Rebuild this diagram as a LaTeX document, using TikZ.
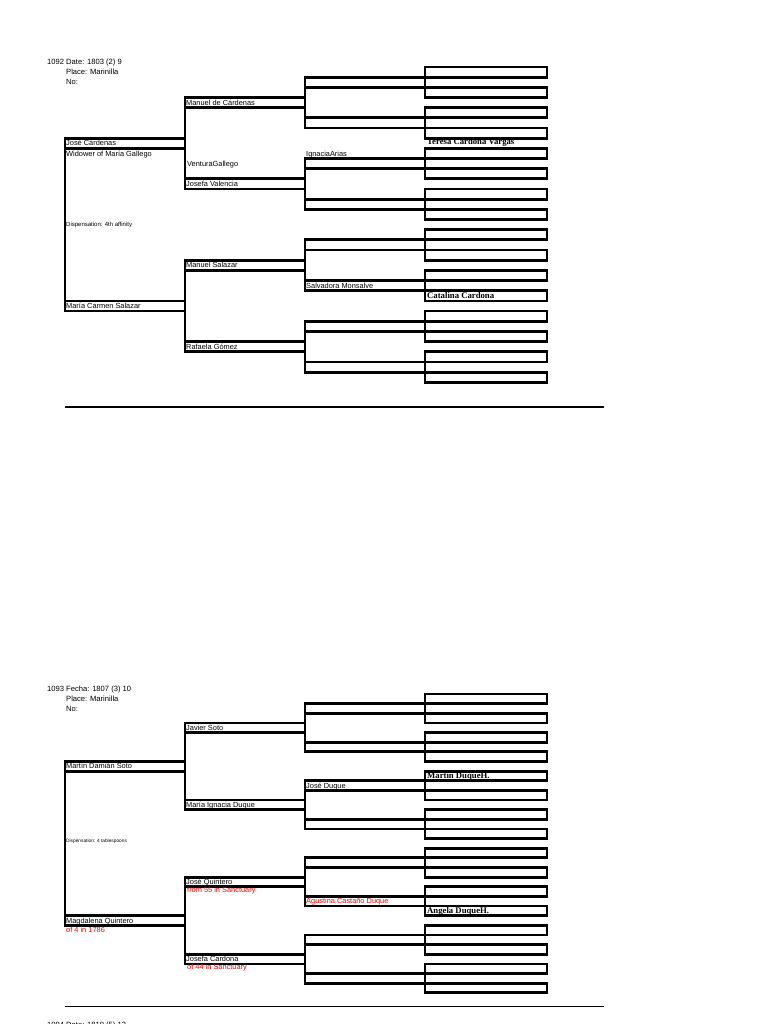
\documentclass[tikz,border=0pt]{standalone}
\usepackage{fontspec}
\setmainfont{Liberation Sans}
\newfontfamily\serifb{Liberation Serif}
\begin{document}
\begin{tikzpicture}[x=1pt,y=-1pt]
\tikzset{
  pbox/.style={draw, line width=2.8pt, inner sep=0pt, outer sep=0pt, anchor=north west},
  conn/.style={line width=2.2pt},
  rootconn/.style={line width=1.6pt},
  lbl/.style={font=\fontsize{7.4}{8}\selectfont, inner sep=0pt, anchor=mid west},
  hdr/.style={font=\fontsize{7.6}{8}\selectfont, inner sep=0pt, anchor=base west},
  note/.style={font=\fontsize{7.4}{8}\selectfont, inner sep=0pt, anchor=base west},
  small/.style={font=\fontsize{6}{7}\selectfont, inner sep=0pt, anchor=base west},
  tiny/.style={font=\fontsize{4.8}{6}\selectfont, inner sep=0pt, anchor=base west},
  big/.style={font=\serifb\bfseries\fontsize{8.7}{9}\selectfont, inner sep=0pt, anchor=base west},
  redt/.style={text=red},
  sep/.style={line width=1.1pt}
}
\newcommand\pedtree[3]{%
  \foreach \g/\n in {1/2,2/4,3/8,4/16}{%
    \pgfmathtruncatemacro\lastidx{\n-1}%
    \foreach \i in {0,...,\lastidx}{%
      \pgfmathsetmacro\rowv{2^(4-\g)-1+\i*2^(5-\g)}%
      \pgfmathsetmacro\yy{#2+\rowv*#3}%
      \pgfmathsetmacro\xx{65+120*(\g-1)}%
      \pgfmathsetmacro\ww{\g==4 ? 122 : 120}%
      \node[pbox, minimum width=\ww pt, minimum height=#3 pt] (#1\g-\i) at (\xx,\yy) {};
    }%
  }%
  \draw[rootconn] (#11-0.south west) -- (#11-1.north west);
  \foreach \g/\n in {2/2,3/4,4/8}{%
    \pgfmathtruncatemacro\lastidx{\n-1}%
    \foreach \k in {0,...,\lastidx}{%
      \pgfmathtruncatemacro\ka{2*\k}%
      \pgfmathtruncatemacro\kb{2*\k+1}%
      \draw[conn] (#1\g-\ka.south west) -- (#1\g-\kb.north west);
    }%
  }%
}
\useasboundingbox (0,0) rectangle (768,1024);
\fill[white] (0,0) rectangle (768,1024);

% ---------- first record ----------
\node[hdr] (h1a) at (47,64.5) {1092 Date: 1803 (2) 9};
\node[hdr] (h1b) at (66,75) {Place: Marinilla};
\node[hdr] (h1c) at (66,85) {No:};
\pedtree{A}{67}{10.17}
\node[lbl] (tA10) at ([xshift=1pt]A1-0.west) {José Cárdenas};
\node[lbl] (tA11) at ([xshift=1pt]A1-1.west) {María Carmen Salazar};
\node[lbl] (tA20) at ([xshift=1pt]A2-0.west) {Manuel de Cárdenas};
\node[lbl] (tA21) at ([xshift=1pt]A2-1.west) {Josefa Valencia};
\node[lbl] (tA22) at ([xshift=1pt]A2-2.west) {Manuel Salazar};
\node[lbl] (tA23) at ([xshift=1pt]A2-3.west) {Rafaela Gómez};
\node[lbl] (tA35) at ([xshift=1pt]A3-5.west) {Salvadora Monsalve};
\node[note] (wA) at (66,156.5) {Widower of María Gallego};
\node[small] (dA) at (66,226.5) {Dispensation: 4th affinity};
\node[note] (vA) at (187,166.5) {VenturaGallego};
\node[note] (iA) at (306,156.5) {IgnaciaArias};
\node[big] (teA) at (427,145) {Teresa Cardona Vargas};
\node[big] (caA) at (427,298) {Catalina Cardona};
\draw[sep] (65,407) -- (604,407);

% ---------- second record ----------
\node[hdr] (h2a) at (47,691.5) {1093 Fecha: 1807 (3) 10};
\node[hdr] (h2b) at (66,701.5) {Place: Marinilla};
\node[hdr] (h2c) at (66,711.5) {No:};
\pedtree{B}{694}{9.64}
\node[lbl] (tB10) at ([xshift=1pt]B1-0.west) {Martín Damián Soto};
\node[lbl] (tB11) at ([xshift=1pt]B1-1.west) {Magdalena Quintero};
\node[lbl] (tB20) at ([xshift=1pt]B2-0.west) {Javier Soto};
\node[lbl] (tB21) at ([xshift=1pt]B2-1.west) {María Ignacia Duque};
\node[lbl] (tB22) at ([xshift=1pt]B2-2.west) {José Quintero};
\node[lbl] (tB23) at ([xshift=1pt]B2-3.west) {Josefa Cardona};
\node[lbl] (tB32) at ([xshift=1pt]B3-2.west) {José Duque};
\node[lbl, redt] (tB35) at ([xshift=1pt]B3-5.west) {Agustina Castaño Duque};
\node[tiny] (dB) at (66,842.5) {Dispensation: 4 tablespoons};
\node[note, redt] (rB1) at (187,892.3) {from 55 in Sanctuary};
\node[note, redt] (rB2) at (66,932.3) {of 4 in 1786};
\node[note, redt] (rB3) at (187,969.7) {of 44 in Sanctuary};
\node[big] (mdB) at (427,778.5) {Martín DuqueH.};
\node[big] (adB) at (427,913) {Angela DuqueH.};
\draw[sep] (65,1006.5) -- (604,1006.5);

% ---------- third record (cut off at the page edge, as in the source) ----------
\node[hdr] (h3a) at (47,1027) {1094 Date: 1810 (5) 13};
\end{tikzpicture}
\end{document}
